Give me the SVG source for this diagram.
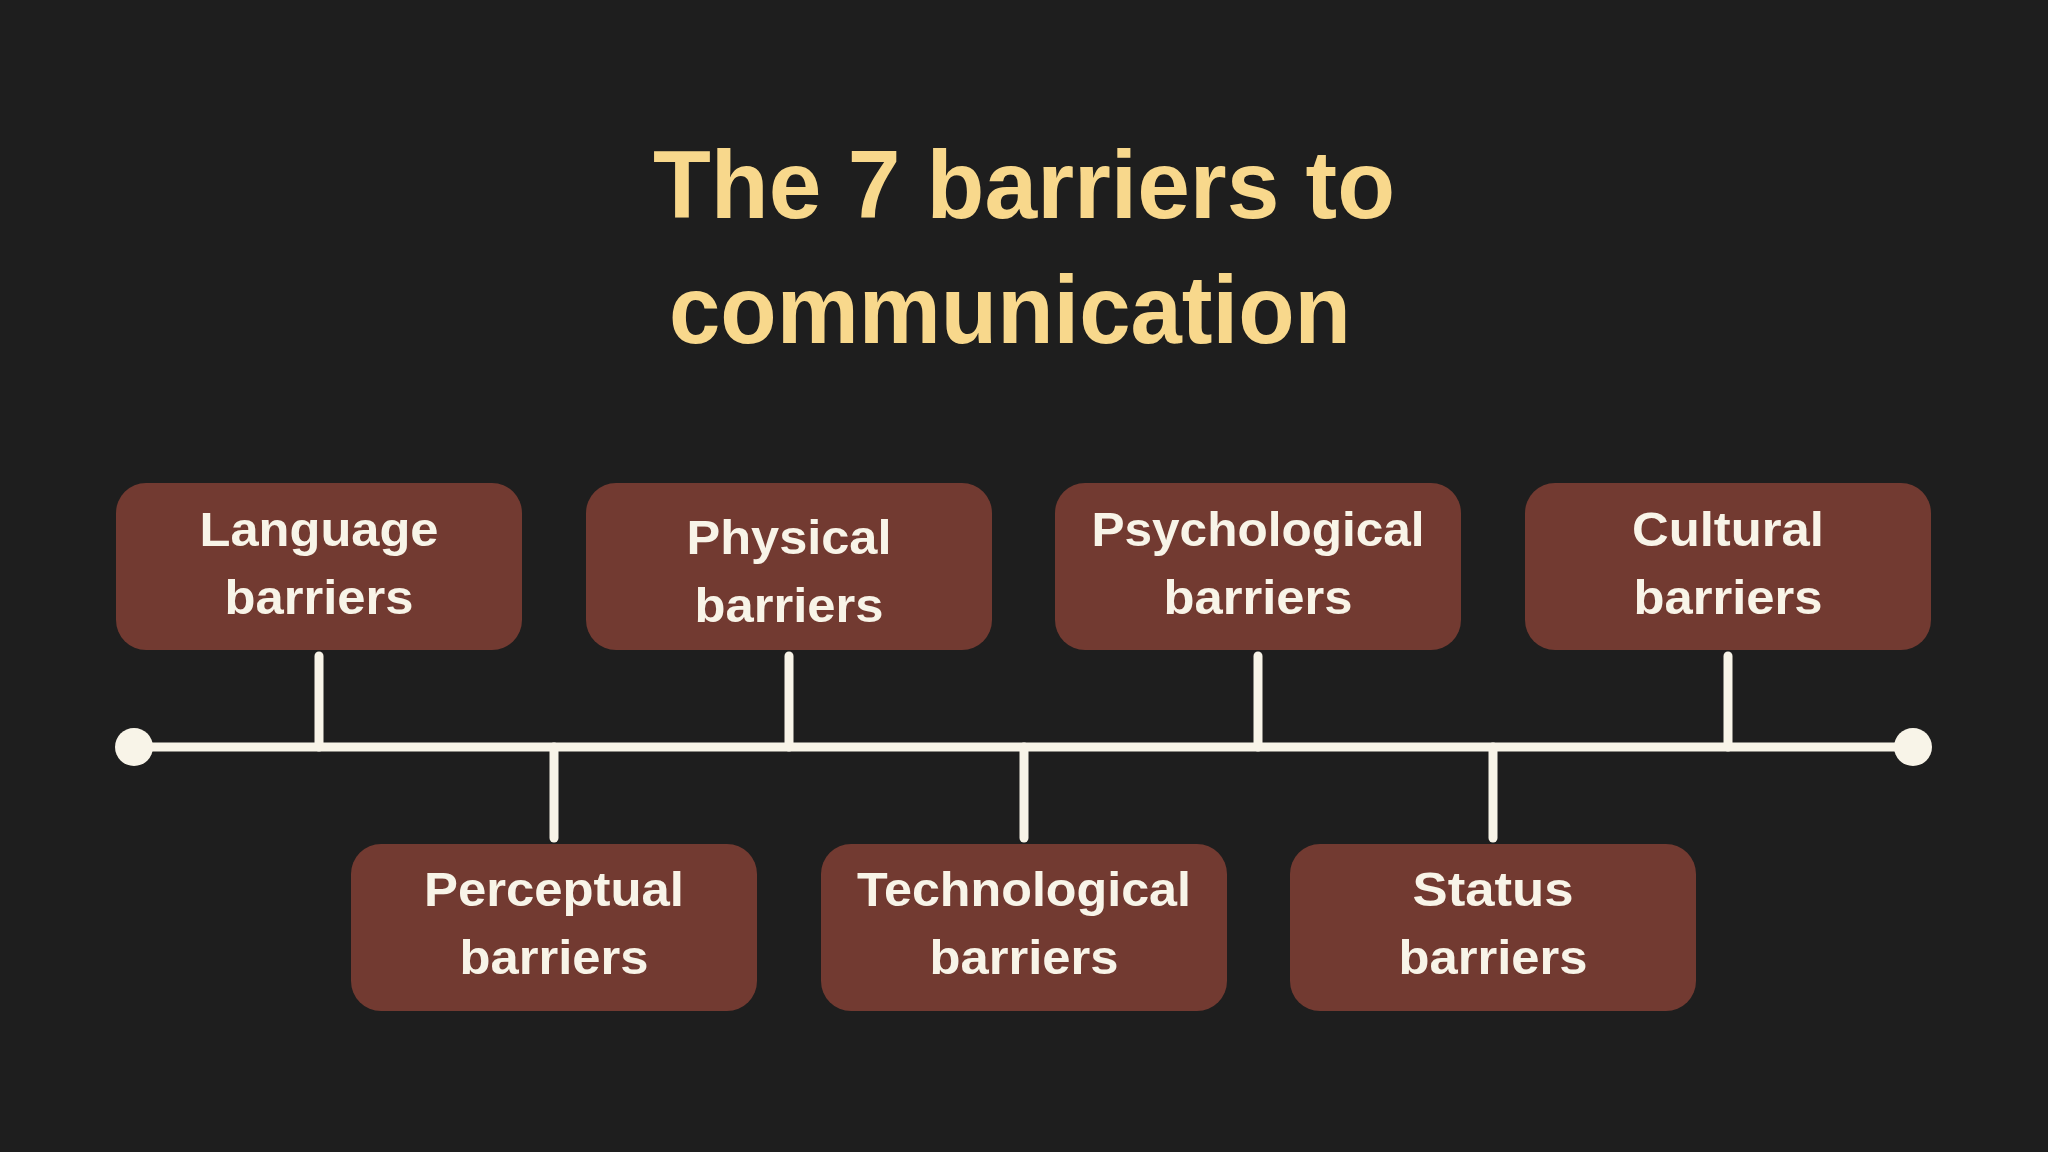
<svg xmlns="http://www.w3.org/2000/svg" width="2048" height="1152" viewBox="0 0 2048 1152">
<style>
.box{fill:#723a31}
.lbl{font-family:"Liberation Sans",Arial,sans-serif;font-weight:700;font-size:49px;fill:#f8f4e8;text-anchor:middle}
.title{font-family:"Liberation Sans",Arial,sans-serif;font-weight:700;font-size:97px;fill:#f8d88c}
.ln{stroke:#f8f4e8;stroke-width:9;stroke-linecap:round;fill:none}
</style>
<rect width="2048" height="1152" fill="#1e1e1e"/>
<g id="title">
<text class="title" x="653" y="218" textLength="742" lengthAdjust="spacingAndGlyphs">The 7 barriers to</text>
<text class="title" x="669" y="343" textLength="682" lengthAdjust="spacingAndGlyphs">communication</text>
</g>
<g id="connectors">
<line class="ln" x1="134" y1="747" x2="1913" y2="747"/>
<circle cx="134" cy="747" r="19" fill="#f8f4e8"/>
<circle cx="1913" cy="747" r="19" fill="#f8f4e8"/>
<line class="ln" x1="319" y1="656" x2="319" y2="747"/>
<line class="ln" x1="789" y1="656" x2="789" y2="747"/>
<line class="ln" x1="1258" y1="656" x2="1258" y2="747"/>
<line class="ln" x1="1728" y1="656" x2="1728" y2="747"/>
<line class="ln" x1="554" y1="747" x2="554" y2="838"/>
<line class="ln" x1="1024" y1="747" x2="1024" y2="838"/>
<line class="ln" x1="1493" y1="747" x2="1493" y2="838"/>
</g>
<g id="language">
<rect class="box" x="116" y="483" width="406" height="167" rx="30"/>
<text class="lbl" x="319" y="546" textLength="239" lengthAdjust="spacingAndGlyphs">Language</text>
<text class="lbl" x="319" y="614" textLength="189" lengthAdjust="spacingAndGlyphs">barriers</text>
</g>
<g id="physical">
<rect class="box" x="586" y="483" width="406" height="167" rx="30"/>
<text class="lbl" x="789" y="554" textLength="205" lengthAdjust="spacingAndGlyphs">Physical</text>
<text class="lbl" x="789" y="622" textLength="189" lengthAdjust="spacingAndGlyphs">barriers</text>
</g>
<g id="psychological">
<rect class="box" x="1055" y="483" width="406" height="167" rx="30"/>
<text class="lbl" x="1258" y="546" textLength="333" lengthAdjust="spacingAndGlyphs">Psychological</text>
<text class="lbl" x="1258" y="614" textLength="189" lengthAdjust="spacingAndGlyphs">barriers</text>
</g>
<g id="cultural">
<rect class="box" x="1525" y="483" width="406" height="167" rx="30"/>
<text class="lbl" x="1728" y="546" textLength="192" lengthAdjust="spacingAndGlyphs">Cultural</text>
<text class="lbl" x="1728" y="614" textLength="189" lengthAdjust="spacingAndGlyphs">barriers</text>
</g>
<g id="perceptual">
<rect class="box" x="351" y="844" width="406" height="167" rx="30"/>
<text class="lbl" x="554" y="906" textLength="260" lengthAdjust="spacingAndGlyphs">Perceptual</text>
<text class="lbl" x="554" y="974" textLength="189" lengthAdjust="spacingAndGlyphs">barriers</text>
</g>
<g id="technological">
<rect class="box" x="821" y="844" width="406" height="167" rx="30"/>
<text class="lbl" x="1024" y="906" textLength="334" lengthAdjust="spacingAndGlyphs">Technological</text>
<text class="lbl" x="1024" y="974" textLength="189" lengthAdjust="spacingAndGlyphs">barriers</text>
</g>
<g id="status">
<rect class="box" x="1290" y="844" width="406" height="167" rx="30"/>
<text class="lbl" x="1493" y="906" textLength="161" lengthAdjust="spacingAndGlyphs">Status</text>
<text class="lbl" x="1493" y="974" textLength="189" lengthAdjust="spacingAndGlyphs">barriers</text>
</g>
</svg>
